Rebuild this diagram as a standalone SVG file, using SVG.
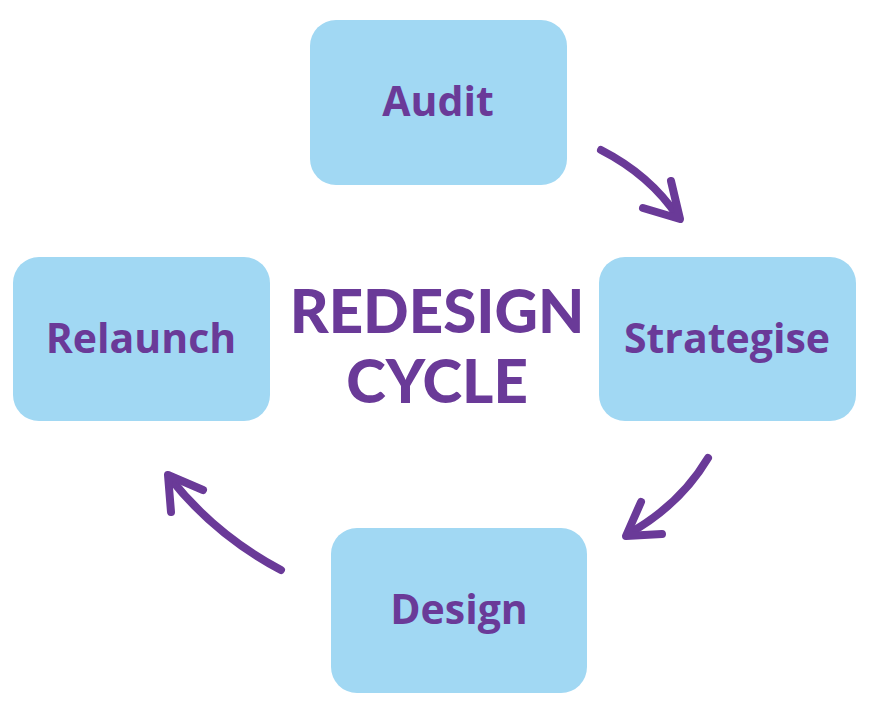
<svg xmlns="http://www.w3.org/2000/svg" width="874" height="712" viewBox="0 0 874 712">
<style>
.box{fill:#a1d8f3}
.lbl{font-family:"Open Sans","Liberation Sans",sans-serif;font-weight:bold;font-size:41px;fill:#6a3a98;text-anchor:middle}
.t{font-family:"Lato","Liberation Sans",sans-serif;font-weight:900;font-size:60px;fill:#6a3a98;text-anchor:middle}
.c{fill:none;stroke:#6a3a98;stroke-width:8;stroke-linecap:round;stroke-linejoin:round}
</style>
<rect width="874" height="712" fill="#fff"/>
<g id="audit"><rect class="box" x="310" y="20" width="257" height="165" rx="26"/><text class="lbl" x="438" y="116">Audit</text></g>
<g id="strategise"><rect class="box" x="599" y="257" width="257" height="164" rx="26"/><text class="lbl" x="727" y="353">Strategise</text></g>
<g id="relaunch"><rect class="box" x="13" y="257" width="257" height="164" rx="26"/><text class="lbl" x="141" y="353">Relaunch</text></g>
<g id="design"><rect class="box" x="331" y="528" width="256" height="165" rx="26"/><text class="lbl" x="459" y="624">Design</text></g>
<g id="title"><text class="t" x="437" y="333">REDESIGN</text><text class="t" x="437" y="403">CYCLE</text></g>
<g id="connectors">
<path class="c" d="M601,150 Q650,175 678,217"/><path class="c" d="M643,208 L680,219 L671,181"/>
<path class="c" d="M708,458 Q680,505 628,534"/><path class="c" d="M662,534 L626,536 L641,502"/>
<path class="c" d="M281,570 Q215,535 170,478"/><path class="c" d="M171,512 L168,475 L203,490"/>
</g>
</svg>
